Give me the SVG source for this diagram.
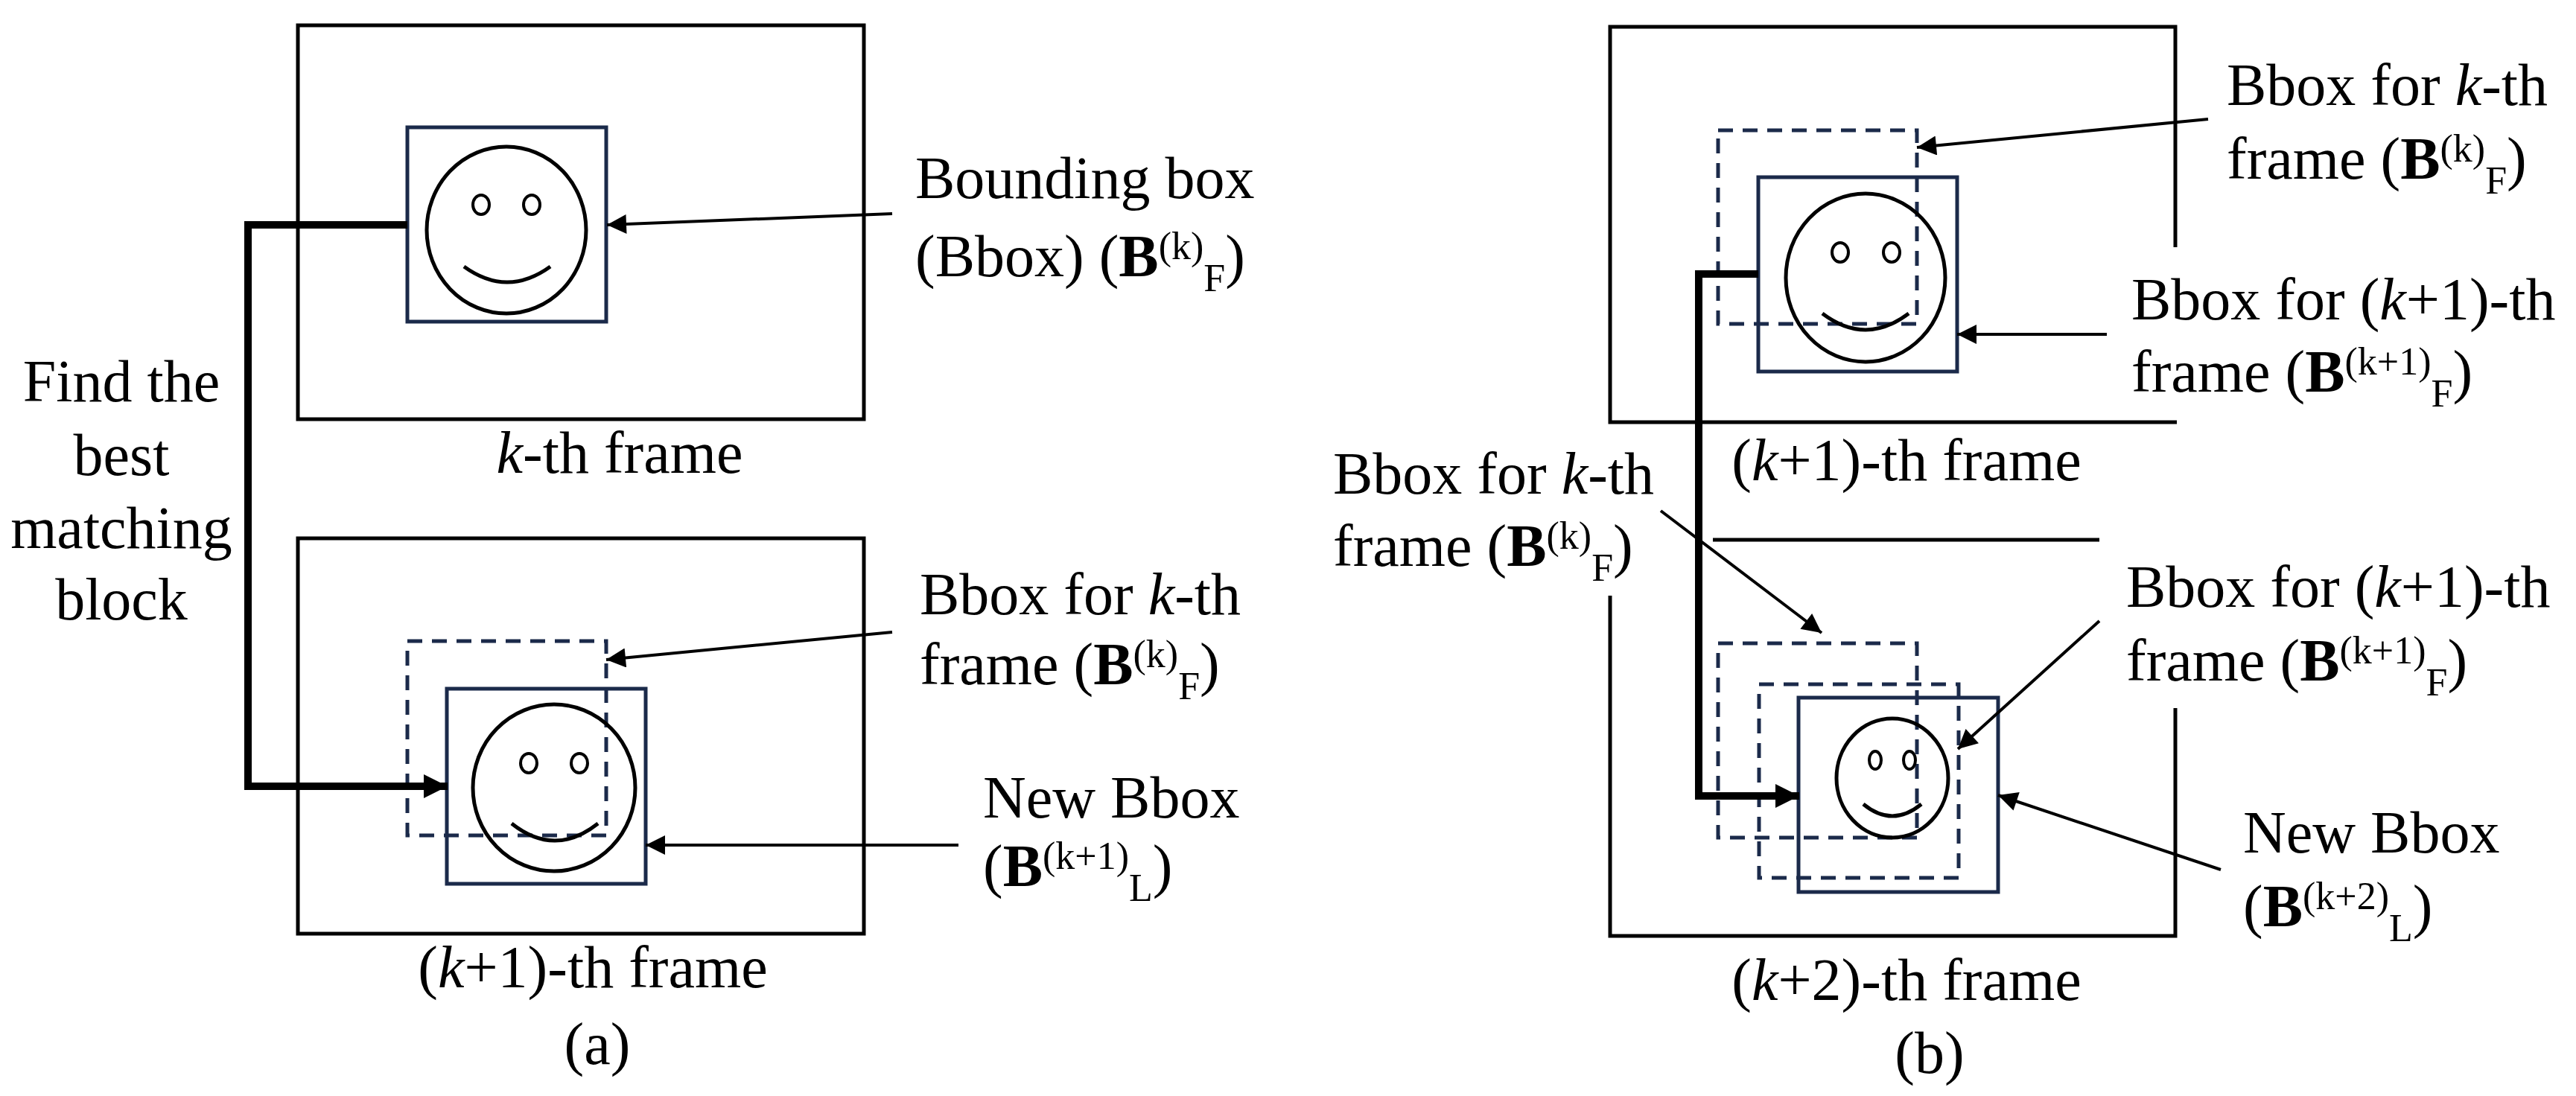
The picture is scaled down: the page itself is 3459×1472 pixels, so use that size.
<svg xmlns="http://www.w3.org/2000/svg" width="3459" height="1472" viewBox="0 0 3459 1472">
<style>
text{font-family:"Liberation Serif","Times New Roman",serif;font-size:80px;fill:#000}
.c{text-anchor:middle}
.frame{fill:none;stroke:#000;stroke-width:5}
.bb{fill:none;stroke:#1b2a4a;stroke-width:5}
.dash{fill:none;stroke:#1b2a4a;stroke-width:5;stroke-dasharray:20 13}
.face{fill:none;stroke:#000;stroke-width:5}
.eye{fill:none;stroke:#000;stroke-width:4}
.arr{fill:none;stroke:#000;stroke-width:4;marker-end:url(#ah)}
.thick{fill:none;stroke:#000;stroke-width:10;marker-end:url(#ah2)}
.sup{font-size:52px}
</style>
<defs>
<marker id="ah" viewBox="0 0 10 10" refX="10" refY="5" markerWidth="28" markerHeight="26" orient="auto" markerUnits="userSpaceOnUse"><path d="M0,0 L10,5 L0,10 z" fill="#000"/></marker>
<marker id="ah2" viewBox="0 0 10 10" refX="10" refY="5" markerWidth="32" markerHeight="32" orient="auto" markerUnits="userSpaceOnUse"><path d="M0,0 L10,5 L0,10 z" fill="#000"/></marker>
</defs>
<rect width="3459" height="1472" fill="#fff"/>

<!-- Panel (a) -->
<g id="a-frame-k">
<rect class="frame" x="400" y="34" width="760" height="529"/>
<text class="c" x="832" y="635"><tspan font-style="italic">k</tspan>-th frame</text>
</g>
<g id="a-bbox-k">
<rect class="bb" x="547" y="171" width="267" height="261"/>
<ellipse class="face" cx="680" cy="309" rx="107" ry="112"/>
<ellipse class="eye" cx="646" cy="275" rx="11" ry="13"/>
<ellipse class="eye" cx="714" cy="275" rx="11" ry="13"/>
<path class="face" d="M623,358 Q681,400 739,358"/>
</g>
<g id="a-frame-k1">
<rect class="frame" x="400" y="723" width="760" height="531"/>
<text class="c" x="796" y="1326">(<tspan font-style="italic">k</tspan>+1)-th frame</text>
</g>
<g id="a-bbox-old"><rect class="dash" x="547" y="861" width="267" height="261"/></g>
<g id="a-bbox-new">
<rect class="bb" x="600" y="925" width="267" height="262"/>
<ellipse class="face" cx="744" cy="1058" rx="109" ry="112"/>
<ellipse class="eye" cx="710" cy="1025" rx="11" ry="13"/>
<ellipse class="eye" cx="778" cy="1025" rx="11" ry="13"/>
<path class="face" d="M687,1106 Q745,1152 803,1106"/>
</g>
<g id="a-labels">
<text x="1229" y="266">Bounding box</text>
<text x="1229" y="371">(Bbox) (<tspan font-weight="bold">B</tspan><tspan class="sup" dy="-23">(k)</tspan><tspan class="sup" dy="43">F</tspan><tspan dy="-20">)</tspan></text>
<text x="1235" y="825">Bbox for <tspan font-style="italic">k</tspan>-th</text>
<text x="1235" y="919">frame (<tspan font-weight="bold">B</tspan><tspan class="sup" dy="-23">(k)</tspan><tspan class="sup" dy="43">F</tspan><tspan dy="-20">)</tspan></text>
<text x="1320" y="1098">New Bbox</text>
<text x="1320" y="1190">(<tspan font-weight="bold">B</tspan><tspan class="sup" dy="-23">(k+1)</tspan><tspan class="sup" dy="43">L</tspan><tspan dy="-20">)</tspan></text>
<text class="c" x="163" y="539">Find the</text>
<text class="c" x="163" y="638">best</text>
<text class="c" x="163" y="736">matching</text>
<text class="c" x="163" y="832">block</text>
<text class="c" x="802" y="1429">(a)</text>
</g>

<!-- Panel (b) -->
<g id="b-frame-k1">
<path class="frame" d="M2921,332 V36 H2162 V567 H2923"/>
<text class="c" x="2560" y="645">(<tspan font-style="italic">k</tspan>+1)-th frame</text>
</g>
<g id="b-top-old"><rect class="dash" x="2307" y="175" width="267" height="260"/></g>
<g id="b-top-new">
<rect class="bb" x="2361" y="238" width="267" height="261"/>
<ellipse class="face" cx="2505" cy="373" rx="107" ry="113"/>
<ellipse class="eye" cx="2471" cy="339" rx="11" ry="13"/>
<ellipse class="eye" cx="2540" cy="339" rx="11" ry="13"/>
<path class="face" d="M2447,421 Q2505,465 2563,421"/>
</g>
<g id="b-frame-k2">
<path class="frame" d="M2300,725 H2819 M2162,800 V1257 H2921 V951"/>
<text class="c" x="2560" y="1343">(<tspan font-style="italic">k</tspan>+2)-th frame</text>
</g>
<g id="b-bot-old1"><rect class="dash" x="2307" y="864" width="267" height="261"/></g>
<g id="b-bot-old2"><rect class="dash" x="2362" y="919" width="268" height="260"/></g>
<g id="b-bot-new">
<rect class="bb" x="2415" y="937" width="268" height="261"/>
<ellipse class="face" cx="2541" cy="1045" rx="75" ry="80"/>
<ellipse class="eye" cx="2518" cy="1021" rx="8" ry="12"/>
<ellipse class="eye" cx="2564" cy="1021" rx="8" ry="12"/>
<path class="face" d="M2502,1080 Q2541,1112 2580,1080"/>
</g>
<g id="b-labels">
<text x="2990" y="141">Bbox for <tspan font-style="italic">k</tspan>-th</text>
<text x="2990" y="240">frame (<tspan font-weight="bold">B</tspan><tspan class="sup" dy="-23">(k)</tspan><tspan class="sup" dy="43">F</tspan><tspan dy="-20">)</tspan></text>
<text x="2862" y="429">Bbox for (<tspan font-style="italic">k</tspan>+1)-th</text>
<text x="2862" y="526">frame (<tspan font-weight="bold">B</tspan><tspan class="sup" dy="-23">(k+1)</tspan><tspan class="sup" dy="43">F</tspan><tspan dy="-20">)</tspan></text>
<text x="1790" y="663">Bbox for <tspan font-style="italic">k</tspan>-th</text>
<text x="1790" y="760">frame (<tspan font-weight="bold">B</tspan><tspan class="sup" dy="-23">(k)</tspan><tspan class="sup" dy="43">F</tspan><tspan dy="-20">)</tspan></text>
<text x="2855" y="815">Bbox for (<tspan font-style="italic">k</tspan>+1)-th</text>
<text x="2855" y="914">frame (<tspan font-weight="bold">B</tspan><tspan class="sup" dy="-23">(k+1)</tspan><tspan class="sup" dy="43">F</tspan><tspan dy="-20">)</tspan></text>
<text x="3012" y="1145">New Bbox</text>
<text x="3012" y="1244">(<tspan font-weight="bold">B</tspan><tspan class="sup" dy="-23">(k+2)</tspan><tspan class="sup" dy="43">L</tspan><tspan dy="-20">)</tspan></text>
<text class="c" x="2591" y="1441">(b)</text>
</g>

<g id="connectors">
<path class="thick" d="M547,302 H333 V1056 H601"/>
<line class="arr" x1="1198" y1="287" x2="815" y2="302"/>
<line class="arr" x1="1198" y1="849" x2="814" y2="886"/>
<line class="arr" x1="1287" y1="1135" x2="867" y2="1135"/>
<path class="thick" d="M2361,368 H2281 V1069 H2416"/>
<line class="arr" x1="2965" y1="160" x2="2574" y2="198"/>
<line class="arr" x1="2829" y1="449" x2="2628" y2="449"/>
<line class="arr" x1="2230" y1="686" x2="2446" y2="850"/>
<line class="arr" x1="2819" y1="834" x2="2629" y2="1006"/>
<line class="arr" x1="2982" y1="1168" x2="2683" y2="1068"/>
</g>
</svg>
